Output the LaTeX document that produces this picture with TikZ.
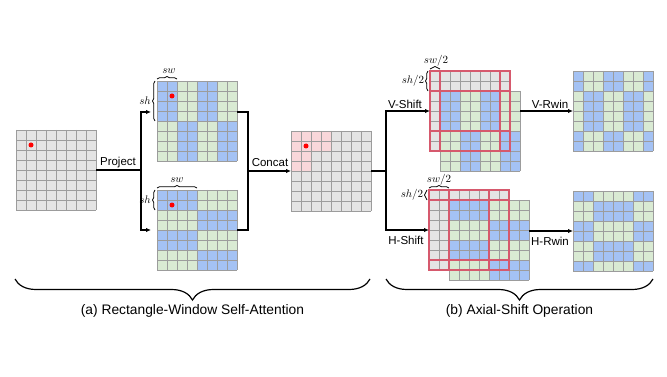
\documentclass[tikz,border=0pt]{standalone}
\usepackage{fontspec}
\setmainfont{Liberation Sans}
\usetikzlibrary{arrows.meta,decorations.pathreplacing}
\definecolor{cgray}{HTML}{E4E4E4}
\definecolor{cblue}{HTML}{A4C2F4}
\definecolor{cgreen}{HTML}{D9EAD3}
\definecolor{cpink}{HTML}{F9D7DA}
\definecolor{cline}{HTML}{9C9C9C}
\definecolor{cwin}{HTML}{D6596D}
\newcommand\cellfill[7]{\fill[#7] ({#1+10*#3},{#2+10*#4}) rectangle ++({10*#5},{10*#6});}
\newcommand\gridlines[2]{\foreach \k in {0,...,8}{\draw[gline] ({#1+10*\k},#2) -- ++(0,80); \draw[gline] (#1,{#2+10*\k}) -- ++(80,0);}}
\newcommand\patV[2]{%
 \cellfill{#1}{#2}{0}{0}{8}{8}{cgreen}
 \cellfill{#1}{#2}{0}{0}{2}{4}{cblue}
 \cellfill{#1}{#2}{4}{0}{2}{4}{cblue}
 \cellfill{#1}{#2}{2}{4}{2}{4}{cblue}
 \cellfill{#1}{#2}{6}{4}{2}{4}{cblue}
 \gridlines{#1}{#2}}
\newcommand\patH[2]{%
 \cellfill{#1}{#2}{0}{0}{8}{8}{cgreen}
 \cellfill{#1}{#2}{0}{0}{4}{2}{cblue}
 \cellfill{#1}{#2}{4}{2}{4}{2}{cblue}
 \cellfill{#1}{#2}{0}{4}{4}{2}{cblue}
 \cellfill{#1}{#2}{4}{6}{4}{2}{cblue}
 \gridlines{#1}{#2}}
\newcommand\patGray[2]{%
 \cellfill{#1}{#2}{0}{0}{8}{8}{cgray}}
\begin{document}
\begin{tikzpicture}[x=1pt,y=-1pt,
  gline/.style={draw=cline,line width=0.6pt},
  win/.style={draw=cwin,line width=1.3pt},
  conn/.style={line width=1.3pt},
  arrowc/.style={conn,-{Latex[length=5pt,width=4.5pt]}},
  gbox/.style={minimum width=80pt,minimum height=80pt,inner sep=0pt,outer sep=0pt},
  lbl/.style={font=\fontsize{11.5}{13}\selectfont,inner sep=0pt},
  captext/.style={font=\fontsize{13.8}{16}\selectfont,inner sep=0pt},
  ml/.style={font=\fontsize{11}{12}\selectfont,inner sep=0pt},
  sbrace/.style={decorate,decoration={brace,amplitude=2.5pt},line width=0.7pt},
  bigbrace/.style={decorate,decoration={brace,amplitude=21pt},line width=1.2pt}]
\useasboundingbox (0,0) rectangle (667,377);
% grid A (input)
\patGray{16}{130}\gridlines{16}{130}
\fill[red] (31,145) circle (2.5);
% grid B
\patV{157}{81}
\fill[red] (172,96) circle (2.5);
% grid C
\patH{157}{190}
\fill[red] (172,205) circle (2.5);
% grid D (concat)
\patGray{291}{131}
\cellfill{291}{131}{0}{0}{4}{2}{cpink}
\cellfill{291}{131}{0}{2}{2}{2}{cpink}
\gridlines{291}{131}
\fill[red] (306,146) circle (2.5);
% grid E (V-shift)
\patGray{430}{71}\gridlines{430}{71}
\patV{440}{91}
\draw[win] (430,71) rectangle (510,151);
\draw[win] (440,71) -- (440,151);
\draw[win] (500,71) -- (500,151);
\draw[win] (430,91) -- (510,91);
\draw[win] (430,131) -- (510,131);
% grid F (H-shift)
\patGray{429}{190}\gridlines{429}{190}
\patH{449}{200}
\draw[win] (429,190) rectangle (509,270);
\draw[win] (449,190) -- (449,270);
\draw[win] (489,190) -- (489,270);
\draw[win] (429,200) -- (509,200);
\draw[win] (429,260) -- (509,260);
% grid G (V-Rwin)
\cellfill{573}{71}{0}{0}{8}{8}{cgreen}
\cellfill{573}{71}{0}{0}{1}{2}{cblue}
\cellfill{573}{71}{3}{0}{2}{2}{cblue}
\cellfill{573}{71}{7}{0}{1}{2}{cblue}
\cellfill{573}{71}{1}{2}{2}{4}{cblue}
\cellfill{573}{71}{5}{2}{2}{4}{cblue}
\cellfill{573}{71}{0}{6}{1}{2}{cblue}
\cellfill{573}{71}{3}{6}{2}{2}{cblue}
\cellfill{573}{71}{7}{6}{1}{2}{cblue}
\gridlines{573}{71}
% grid H (H-Rwin)
\cellfill{573}{191}{0}{0}{8}{8}{cgreen}
\cellfill{573}{191}{0}{0}{2}{1}{cblue}
\cellfill{573}{191}{6}{0}{2}{1}{cblue}
\cellfill{573}{191}{2}{1}{4}{2}{cblue}
\cellfill{573}{191}{0}{3}{2}{2}{cblue}
\cellfill{573}{191}{6}{3}{2}{2}{cblue}
\cellfill{573}{191}{2}{5}{4}{2}{cblue}
\cellfill{573}{191}{0}{7}{2}{1}{cblue}
\cellfill{573}{191}{6}{7}{2}{1}{cblue}
\gridlines{573}{191}
% named grid boxes
\node[gbox] (A) at (56,170) {};
\node[gbox] (B) at (197,121) {};
\node[gbox] (C) at (197,230) {};
\node[gbox] (D) at (331,171) {};
\node[gbox] (E) at (470,111) {};
\node[gbox] (F) at (469,230) {};
\node[gbox] (G) at (613,111) {};
\node[gbox] (H) at (613,231) {};
% small braces and labels
\draw[sbrace] (157,79) -- (177,79);
\node[ml] (lswB) at (169,71) {$sw$};
\draw[sbrace] (155,121) -- (155,81);
\node[ml] (lshB) at (145,101) {$sh$};
\draw[sbrace] (157,188) -- (197,188);
\node[ml] (lswC) at (177,180) {$sw$};
\draw[sbrace] (155,210) -- (155,190);
\node[ml] (lshC) at (145,200) {$sh$};
\draw[sbrace] (430,69) -- (440,69);
\node[ml] (lswE) at (436,61) {$sw/2$};
\draw[sbrace] (428,91) -- (428,71);
\node[ml] (lshE) at (413,81) {$sh/2$};
\draw[sbrace] (429,188) -- (449,188);
\node[ml] (lswF) at (439,180) {$sw/2$};
\draw[sbrace] (427,200) -- (427,190);
\node[ml] (lshF) at (412,195) {$sh/2$};
% connectors
\coordinate (p1) at (141,170);
\coordinate (bin) at (151,112);
\coordinate (cin) at (151,230);
\draw[conn] (A.east) -- (p1);
\draw[arrowc] (p1) |- (bin);
\draw[arrowc] (p1) |- (cin);
\coordinate (q1) at (248,171);
\coordinate (bout) at (237,112);
\draw[conn] (bout) -| (q1);
\draw[conn] (C.east) -| (q1);
\draw[arrowc] (q1) -- (D.west);
\coordinate (r1) at (386,171);
\draw[conn] (D.east) -- (r1);
\draw[arrowc] (r1) |- (E.west);
\draw[arrowc] (r1) |- (F.west);
\coordinate (eout) at (520,111);
\draw[arrowc] (eout) -- (G.west);
\coordinate (fout) at (529,231);
\draw[arrowc] (fout) -- (H.west);
% labels
\node[lbl] (tproj) at (118,163) {Project};
\node[lbl] (tcat) at (270,163) {Concat};
\node[lbl] (tvs) at (405,104) {V-Shift};
\node[lbl] (ths) at (406,240) {H-Shift};
\node[lbl] (tvr) at (550,104) {V-Rwin};
\node[lbl] (thr) at (550,241) {H-Rwin};
% big braces
\draw[bigbrace] (370,279) -- (15,279);
\draw[bigbrace] (653,279) -- (386,279);
\node[captext] (capa) at (192.5,311) {(a) Rectangle-Window Self-Attention};
\node[captext] (capb) at (519.5,311) {(b) Axial-Shift Operation};
\end{tikzpicture}
\end{document}
